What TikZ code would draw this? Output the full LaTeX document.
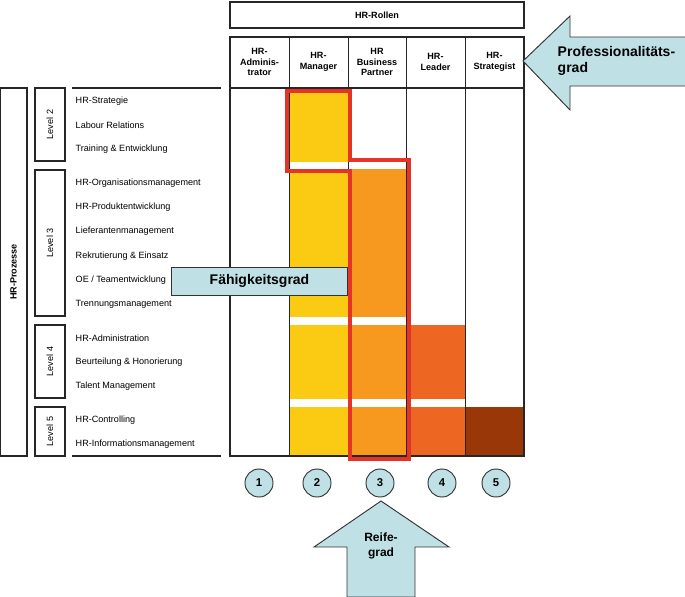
\documentclass[tikz,border=0pt]{standalone}
\usepackage{fontspec}
\setmainfont{Liberation Sans}
\begin{document}
\begin{tikzpicture}[x=0.75pt,y=-0.75pt,
  box/.style={draw=black!85,line width=1.1pt},
  item/.style={anchor=west,font=\fontsize{6.8}{8}\selectfont},
  hd/.style={font=\bfseries\fontsize{6.8}{8}\selectfont,align=center},
  lvl/.style={rotate=90,font=\fontsize{6.8}{8}\selectfont},
  blue/.style={fill=cyanlite,draw=black!80,line width=0.7pt},
  num/.style={circle,blue,minimum size=21pt,inner sep=0pt,font=\bfseries\fontsize{8.5}{10}\selectfont}]
\definecolor{cyanlite}{HTML}{BFE1E5}
\definecolor{yel}{HTML}{FBCB14}
\definecolor{ora}{HTML}{F7991F}
\definecolor{ora2}{HTML}{EE6722}
\definecolor{brn}{HTML}{9A3708}
\definecolor{red1}{HTML}{E53327}
\useasboundingbox (0,0) rectangle (685,596);
% fills
\fill[yel] (289,93) rectangle (348,456);
\fill[ora] (348,168) rectangle (406,456);
\fill[ora2] (406,325) rectangle (465,456);
\fill[brn] (465,407) rectangle (524,456);
\fill[white] (289,162) rectangle (406,169);
\fill[white] (289,317) rectangle (465,325);
\fill[white] (289,399) rectangle (465,407);
% grid
\node[box,minimum width=220.5pt,minimum height=19.5pt,hd] (rollen) at (377,15) {HR-Rollen};
\draw[black!85,line width=0.8pt] (230,37) rectangle (524,456);
\draw[black!85,line width=0.8pt] (230,88) -- (524,88);
\foreach \x in {289,348,406,465} \draw[black!85,line width=0.6pt] (\x,37) -- (\x,456);
\node[hd] (h1) at (259.5,62) {HR-\\Adminis-\\trator};
\node[hd] (h2) at (318.5,62) {HR-\\Manager};
\node[hd] (h3) at (377,62) {HR\\Business\\Partner};
\node[hd] (h4) at (435.5,62) {HR-\\Leader};
\node[hd] (h5) at (494.5,62) {HR-\\Strategist};
\draw[black!85,line width=0.8pt] (72,88) -- (221,88);
\draw[black!85,line width=0.8pt] (72,456) -- (221,456);
% left boxes
\draw[box] (0,88) rectangle (27,456);
\node[rotate=90,font=\bfseries\fontsize{6.8}{8}\selectfont] (proz) at (13.5,272) {HR-Prozesse};
\draw[box] (35,88) rectangle (65,161); \node[lvl] (l2) at (50,124.5) {Level 2};
\draw[box] (35,170) rectangle (65,316); \node[lvl] (l3) at (50,243) {Level 3};
\draw[box] (35,325) rectangle (65,398); \node[lvl] (l4) at (50,361.5) {Level 4};
\draw[box] (35,407) rectangle (65,456); \node[lvl] (l5) at (50,431.5) {Level 5};
\foreach \t/\y [count=\i] in {HR-Strategie/101,Labour Relations/125,Training \& Entwicklung/149,HR-Organisationsmanagement/183,HR-Produktentwicklung/207,Lieferantenmanagement/231,Rekrutierung \& Einsatz/256,{OE / Teamentwicklung}/280,Trennungsmanagement/304,HR-Administration/338,Beurteilung \& Honorierung/362,Talent Management/386,HR-Controlling/420,HR-Informationsmanagement/444}
  \node[item] (it\i) at (71,\y) {\t};
% red outline
\draw[red1,line width=3pt,line join=miter] (287,91) -- (350,91) -- (350,160) -- (409,160) -- (409,459) -- (350,459) -- (350,171) -- (287,171) -- cycle;
% Faehigkeitsgrad
\node[blue,minimum width=132pt,minimum height=21pt,inner sep=0pt,font=\bfseries\fontsize{10.5}{12}\selectfont] (faeh) at (259.5,281) {Fähigkeitsgrad};
% circles
\foreach \x [count=\i] in {259,317,380,442,496} \node[num] (c\i) at (\x,483) {\i};
% Reifegrad arrow
\draw[blue] (381,501) -- (449,547) -- (415,547) -- (415,597) -- (347,597) -- (347,547) -- (314,547) -- cycle;
\node[hd,font=\bfseries\fontsize{9}{11}\selectfont] (reife) at (381,546) {Reife-\\grad};
% Professionalitaet arrow
\draw[blue] (523,61) -- (570,16) -- (570,37) -- (686,37) -- (686,86) -- (570,86) -- (570,110) -- cycle;
\node[align=left,font=\bfseries\fontsize{10.5}{12.5}\selectfont,anchor=west] (prof) at (553,61) {Professionalitäts-\\grad};
\end{tikzpicture}
\end{document}
